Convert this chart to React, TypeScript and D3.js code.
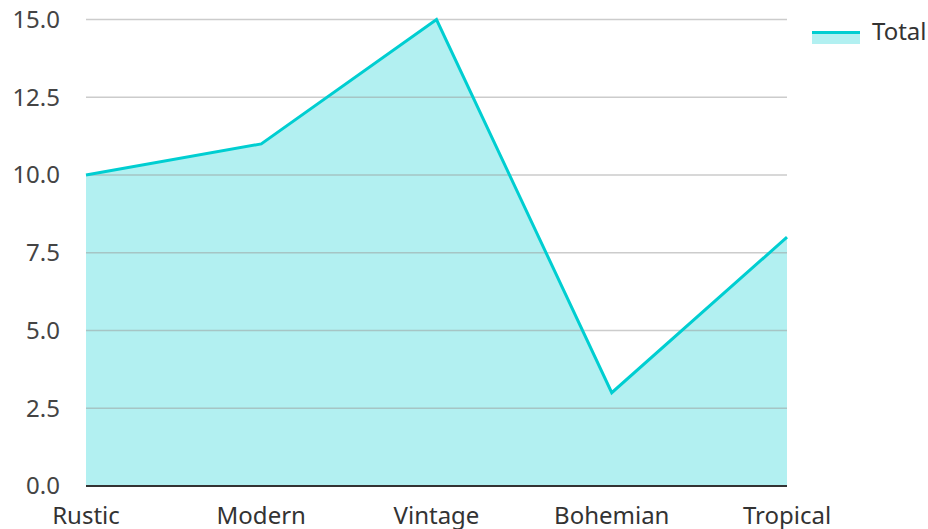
import React, { useEffect, useRef } from 'react';
import * as d3 from 'd3';

const categories = ['Rustic', 'Modern', 'Vintage', 'Bohemian', 'Tropical'];
const totals = [10, 11, 15, 3, 8];
const yTicks = [0, 2.5, 5, 7.5, 10, 12.5, 15];

const width = 928,
    height = 529;

export default function App() {
    const ref = useRef<SVGSVGElement>(null);

    useEffect(() => {
        const svg = d3.select(ref.current);
        svg.selectAll('*').remove();

        const font = "'Noto Sans', 'Open Sans', sans-serif";
        const lineColor = '#00CED1';

        const x = d3.scalePoint<string>()
            .domain(categories)
            .range([86, 787]);

        const y = d3.scaleLinear()
            .domain([0, 15])
            .range([486, 19.5]);

        const data = categories.map((c, i) => ({ c, v: totals[i] }));

        // filled area
        const area = d3.area<{ c: string; v: number }>()
            .x(d => x(d.c) as number)
            .y0(y(0))
            .y1(d => y(d.v));

        svg.append('path')
            .attr('d', area(data))
            .attr('fill', lineColor)
            .attr('fill-opacity', 0.3);

        // grid lines
        svg.append('g')
            .selectAll('line')
            .data(yTicks.filter(t => t > 0))
            .enter()
            .append('line')
            .attr('x1', 86)
            .attr('x2', 787)
            .attr('y1', d => y(d))
            .attr('y2', d => y(d))
            .attr('stroke', '#999')
            .attr('stroke-opacity', 0.5)
            .attr('stroke-width', 1.5);

        // y tick labels
        svg.append('g')
            .selectAll('text')
            .data(yTicks)
            .enter()
            .append('text')
            .attr('x', 60)
            .attr('y', d => y(d))
            .attr('dy', '0.35em')
            .attr('text-anchor', 'end')
            .attr('font-family', font)
            .attr('font-size', 24)
            .attr('fill', '#444')
            .text(d => d.toFixed(1));

        // baseline
        svg.append('line')
            .attr('x1', 86)
            .attr('x2', 787)
            .attr('y1', y(0))
            .attr('y2', y(0))
            .attr('stroke', '#333')
            .attr('stroke-width', 2);

        // x labels
        svg.append('g')
            .selectAll('text')
            .data(categories)
            .enter()
            .append('text')
            .attr('x', d => x(d) as number)
            .attr('y', 524)
            .attr('text-anchor', 'middle')
            .attr('font-family', font)
            .attr('font-size', 24)
            .attr('fill', '#333')
            .text(d => d);

        // line
        const line = d3.line<{ c: string; v: number }>()
            .x(d => x(d.c) as number)
            .y(d => y(d.v));

        svg.append('path')
            .attr('d', line(data))
            .attr('fill', 'none')
            .attr('stroke', lineColor)
            .attr('stroke-width', 3);

        // legend
        const lg = svg.append('g').attr('transform', 'translate(812,31)');
        lg.append('rect')
            .attr('width', 48)
            .attr('height', 13)
            .attr('fill', lineColor)
            .attr('fill-opacity', 0.3);
        lg.append('line')
            .attr('x1', 0)
            .attr('x2', 48)
            .attr('y1', 1.5)
            .attr('y2', 1.5)
            .attr('stroke', lineColor)
            .attr('stroke-width', 3);
        lg.append('text')
            .attr('x', 60)
            .attr('y', 1)
            .attr('dy', '0.35em')
            .attr('font-family', font)
            .attr('font-size', 24)
            .attr('fill', '#333')
            .text('Total');
    }, []);

    return (
        <svg ref={ref} width={width} height={height}
            style={{ position: 'absolute', left: 0, top: 0 }}></svg>
    );
}
